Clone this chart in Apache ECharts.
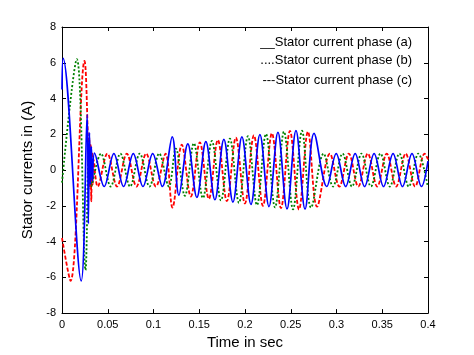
<!DOCTYPE html>
<html><head><meta charset="utf-8">
<script src="https://cdn.jsdelivr.net/npm/echarts@6/dist/echarts.min.js"></script>
<style>html,body{margin:0;padding:0;background:#fff}#c{width:474px;height:355px}</style>
</head><body><div id="c"></div><script>
// ---- data: [time (s), current (A)] at each peak / trough ----
const phaseA = [
  [0,4.5],[0.0012,6.25],[0.021,-6.2],[0.0275,3.1],[0.0288,-3.0],[0.0300,2.1],[0.0311,-0.8],[0.0321,1.3],[0.0333,-0.6],
  [0.0355,0.95],[0.0461,-0.92],[0.0567,0.92],[0.0673,-0.92],[0.0779,0.92],[0.0885,-0.92],[0.0991,0.92],[0.1097,-0.92],
  [0.1205,1.86],[0.1277,-1.40],[0.1375,1.46],[0.1474,-1.53],[0.1572,1.59],[0.1671,-1.66],[0.1769,1.72],[0.1868,-1.79],
  [0.1966,1.85],[0.2065,-1.92],[0.2163,1.98],[0.2262,-2.04],[0.2360,2.11],[0.2459,-2.17],[0.2557,2.2],[0.2656,-2.18],[0.2754,2.05],
  [0.2894,-0.92],[0.2997,0.92],[0.3100,-0.92],[0.3204,0.92],[0.3307,-0.92],[0.3411,0.92],[0.3514,-0.92],[0.3618,0.92],
  [0.3721,-0.92],[0.3825,0.92],[0.3928,-0.92],[0.4,0.5]
];
const phaseB = [
  [0,-0.7],[0.0162,6.2],[0.0257,-5.6],[0.0290,0.8],[0.0300,-0.5],[0.0310,0.6],[0.0320,-0.9],
  [0.0426,0.92],[0.0532,-0.92],[0.0638,0.92],[0.0744,-0.92],[0.0850,0.92],[0.0956,-0.92],[0.1062,0.92],[0.1168,-0.92],
  [0.1244,1.2],[0.1343,-1.44],[0.1441,1.50],[0.1540,-1.57],[0.1638,1.63],[0.1737,-1.70],[0.1835,1.76],[0.1934,-1.83],
  [0.2032,1.89],[0.2131,-1.96],[0.2229,2.02],[0.2328,-2.09],[0.2426,2.15],[0.2525,-2.2],[0.2623,2.2],[0.2722,-2.1],
  [0.2859,0.92],[0.2962,-0.92],[0.3066,0.92],[0.3169,-0.92],[0.3273,0.92],[0.3376,-0.92],[0.3480,0.92],[0.3583,-0.92],
  [0.3687,0.92],[0.3790,-0.92],[0.3894,0.92],[0.3997,-0.92]
];
const phaseC = [
  [0,-3.8],[0.0093,-6.2],[0.0246,6.1],[0.0282,2.0],[0.0290,-0.5],[0.0298,1.8],[0.0306,-1.0],[0.0314,1.4],[0.0320,-1.75],
  [0.0328,1.0],[0.0336,-0.8],[0.0344,0.6],
  [0.0390,-0.92],[0.0496,0.92],[0.0602,-0.92],[0.0708,0.92],[0.0814,-0.92],[0.0920,0.92],[0.1026,-0.92],[0.1132,0.92],
  [0.1207,-2.1],[0.1309,1.42],[0.1408,-1.48],[0.1506,1.55],[0.1605,-1.61],[0.1703,1.68],[0.1802,-1.74],[0.1900,1.81],
  [0.1999,-1.87],[0.2097,1.94],[0.2196,-2.00],[0.2294,2.06],[0.2393,-2.13],[0.2491,2.19],[0.2590,-2.2],[0.2688,2.15],[0.2787,-2.05],
  [0.2928,0.92],[0.3031,-0.92],[0.3135,0.92],[0.3238,-0.92],[0.3342,0.92],[0.3445,-0.92],[0.3549,0.92],[0.3652,-0.92],
  [0.3756,0.92],[0.3859,-0.92],[0.3963,0.92],[0.4,0.6]
];
const legendLabels = ['__Stator current phase (a)', '....Stator current phase (b)', '---Stator current phase (c)'];
const xRange = [0, 0.4], xStep = 0.05;
const yRange = [-8, 8], yStep = 2;
const xTitle = 'Time in sec';
const yTitle = 'Stator currents in (A)';

const FONT = 'Arial, "Liberation Sans", Helvetica, sans-serif';
const chart = echarts.init(document.getElementById('c'), null, {renderer: 'canvas'});
const axisBase = {
  type: 'value',
  axisLine: {show: true, onZero: false, lineStyle: {color: '#000', width: 1}},
  axisTick: {show: true, inside: true, length: 4, lineStyle: {color: '#000', width: 1}},
  splitLine: {show: false}
};
const labelStyle = {color: '#000', fontSize: 11, fontFamily: FONT};
const nameStyle = {color: '#000', fontSize: 15, fontFamily: FONT};
chart.setOption({
  animation: false,
  backgroundColor: '#fff',
  grid: {left: 62, top: 27, width: 366, height: 288},
  xAxis: [
    Object.assign({}, axisBase, {min: xRange[0], max: xRange[1], interval: xStep, position: 'bottom',
      axisLabel: Object.assign({margin: 6}, labelStyle),
      name: xTitle, nameLocation: 'middle', nameGap: 20, nameTextStyle: nameStyle}),
    Object.assign({}, axisBase, {min: xRange[0], max: xRange[1], interval: xStep, position: 'top',
      axisLabel: {show: false}})
  ],
  yAxis: [
    Object.assign({}, axisBase, {min: yRange[0], max: yRange[1], interval: yStep, position: 'left',
      axisLabel: Object.assign({margin: 6}, labelStyle),
      name: yTitle, nameLocation: 'middle', nameGap: 21, nameTextStyle: nameStyle}),
    Object.assign({}, axisBase, {min: yRange[0], max: yRange[1], interval: yStep, position: 'right',
      axisLabel: {show: false}})
  ],
  graphic: legendLabels.map((t, i) => ({
    type: 'text', right: 62, top: [36, 54, 74][i],
    style: {text: t, fill: '#000', font: '13px ' + FONT}
  })),
  series: [
    {name: 'c', type: 'line', data: phaseC, showSymbol: false, smooth: 0.36,
      lineStyle: {color: '#ff0000', width: 1.8, type: [4, 2]}},
    {name: 'b', type: 'line', data: phaseB, showSymbol: false, smooth: 0.36,
      lineStyle: {color: '#008000', width: 1.8, type: [2, 2]}},
    {name: 'a', type: 'line', data: phaseA, showSymbol: false, smooth: 0.36,
      lineStyle: {color: '#0000ff', width: 1.7}}
  ]
});
</script></body></html>
